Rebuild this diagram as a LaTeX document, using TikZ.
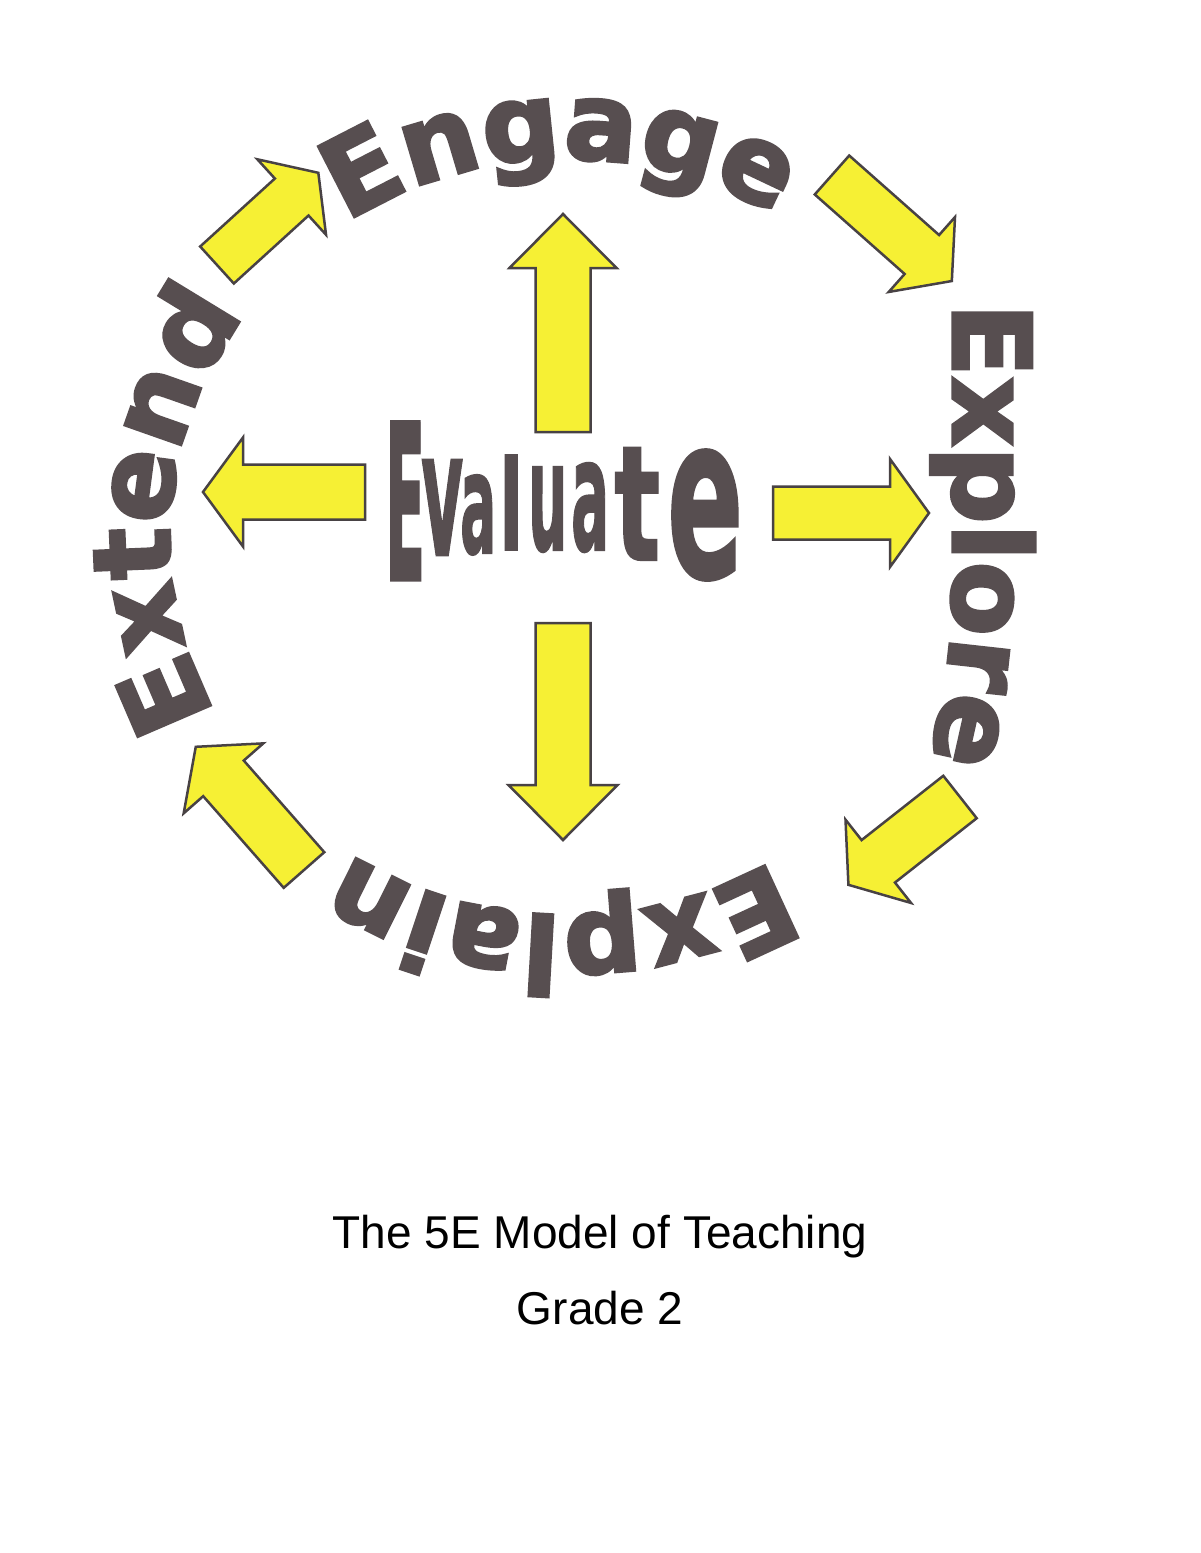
\documentclass[tikz,border=0pt]{standalone}
\usepackage{fontspec}
\usepackage{graphicx}
\usetikzlibrary{decorations.text}
\newfontfamily\ringfont{DejaVu Sans}[FakeBold=3]
\newfontfamily\evfont{DejaVu Sans}[FakeBold=1.5]
\newfontfamily\capfont{Liberation Sans}
\definecolor{ylw}{RGB}{246,240,52}
\definecolor{edgegray}{RGB}{72,66,68}
\definecolor{txtgray}{RGB}{87,78,80}
\tikzset{
  x=1pt, y=-1pt,
  arrowbody/.style={fill=ylw, draw=edgegray, line width=2.5pt, line join=miter},
  pics/barrow/.style n args={4}{code={
    \draw[arrowbody] (0,-#2) -- ({#1-#4},-#2) -- ({#1-#4},-#3) -- (#1,0)
      -- ({#1-#4},#3) -- ({#1-#4},#2) -- (0,#2) -- cycle;
  }},
  ringtext/.style={decorate, decoration={text along path, text align=center,
    text color=txtgray, text={|\ringfont\bfseries\fontsize{108}{108}\selectfont|#1}}},
  ringtextleft/.style={decorate, decoration={text along path, text align=left,
    text color=txtgray, text={|\ringfont\bfseries\fontsize{108}{108}\selectfont|#1}}},
  evletter/.style={anchor=base west, inner sep=0pt, text=txtgray, font=\evfont\bfseries},
  caption/.style={anchor=base, inner sep=0pt, text=black, font=\capfont\fontsize{46}{46}\selectfont}
}
\begin{document}
\begin{tikzpicture}
\fill[white] (0,0) rectangle (1200,1553);
\useasboundingbox (0,0) rectangle (1200,1553);
\coordinate (ringc) at (567,537);

% words around the ring (clockwise, tops outward)
\path[ringtext=Engage]  (ringc) ++(-131:397 and 378) arc[start angle=-131, end angle=-51, x radius=397, y radius=378];
\path[ringtextleft=Explore] (953,303) -- (953,560) .. controls (953,650) and (945,720) .. (915,800);
\path[ringtext=Explain] (ringc) ++(51:397 and 378) arc[start angle=51, end angle=131, x radius=397, y radius=378];
\path[ringtext=Extend]  (ringc) ++(-216:397 and 378) arc[start angle=-216, end angle=-136, x radius=397, y radius=378];

% arrows between the words
\pic[rotate=42.3]   at (217,265) {barrow={137}{25}{51}{36}};
\pic[rotate=-41.5]  at (832,175) {barrow={160}{26}{50}{40}};
\pic[rotate=-141.8] at (960,797) {barrow={142}{27}{53}{38}};
\pic[rotate=131.3]  at (304,870) {barrow={164}{27}{53}{42}};

% arrows from the centre
\pic[rotate=90]  at (563,432) {barrow={218}{27.5}{53.5}{54}};
\pic[rotate=-90] at (563,623) {barrow={217}{27.5}{54.5}{55}};
\pic[rotate=180] at (365,492) {barrow={162}{27.5}{54.5}{40}};
\pic[rotate=0]   at (773,513) {barrow={156}{26.5}{54}{39}};

% Evaluate (warped letters)
\node[evletter] (ev1) at (385,580) {\resizebox{40pt}{158pt}{E}};
\node[evletter] (ev2) at (421,555) {\resizebox{42pt}{95pt}{v}};
\node[evletter] (ev3) at (460,553) {\resizebox{36pt}{78pt}{a}};
\node[evletter] (ev4) at (499,550) {\resizebox{24pt}{95pt}{l}};
\node[evletter] (ev5) at (528,550) {\resizebox{39pt}{83pt}{u}};
\node[evletter] (ev6) at (571,550) {\resizebox{38pt}{87pt}{a}};
\node[evletter] (ev7) at (614,560) {\resizebox{46pt}{112pt}{t}};
\node[evletter] (ev8) at (667,577) {\resizebox{76pt}{127pt}{e}};

% caption
\node[caption] (title) at (600,1248) {The 5E Model of Teaching};
\node[caption] (grade) at (600,1324) {Grade 2};
\end{tikzpicture}
\end{document}
